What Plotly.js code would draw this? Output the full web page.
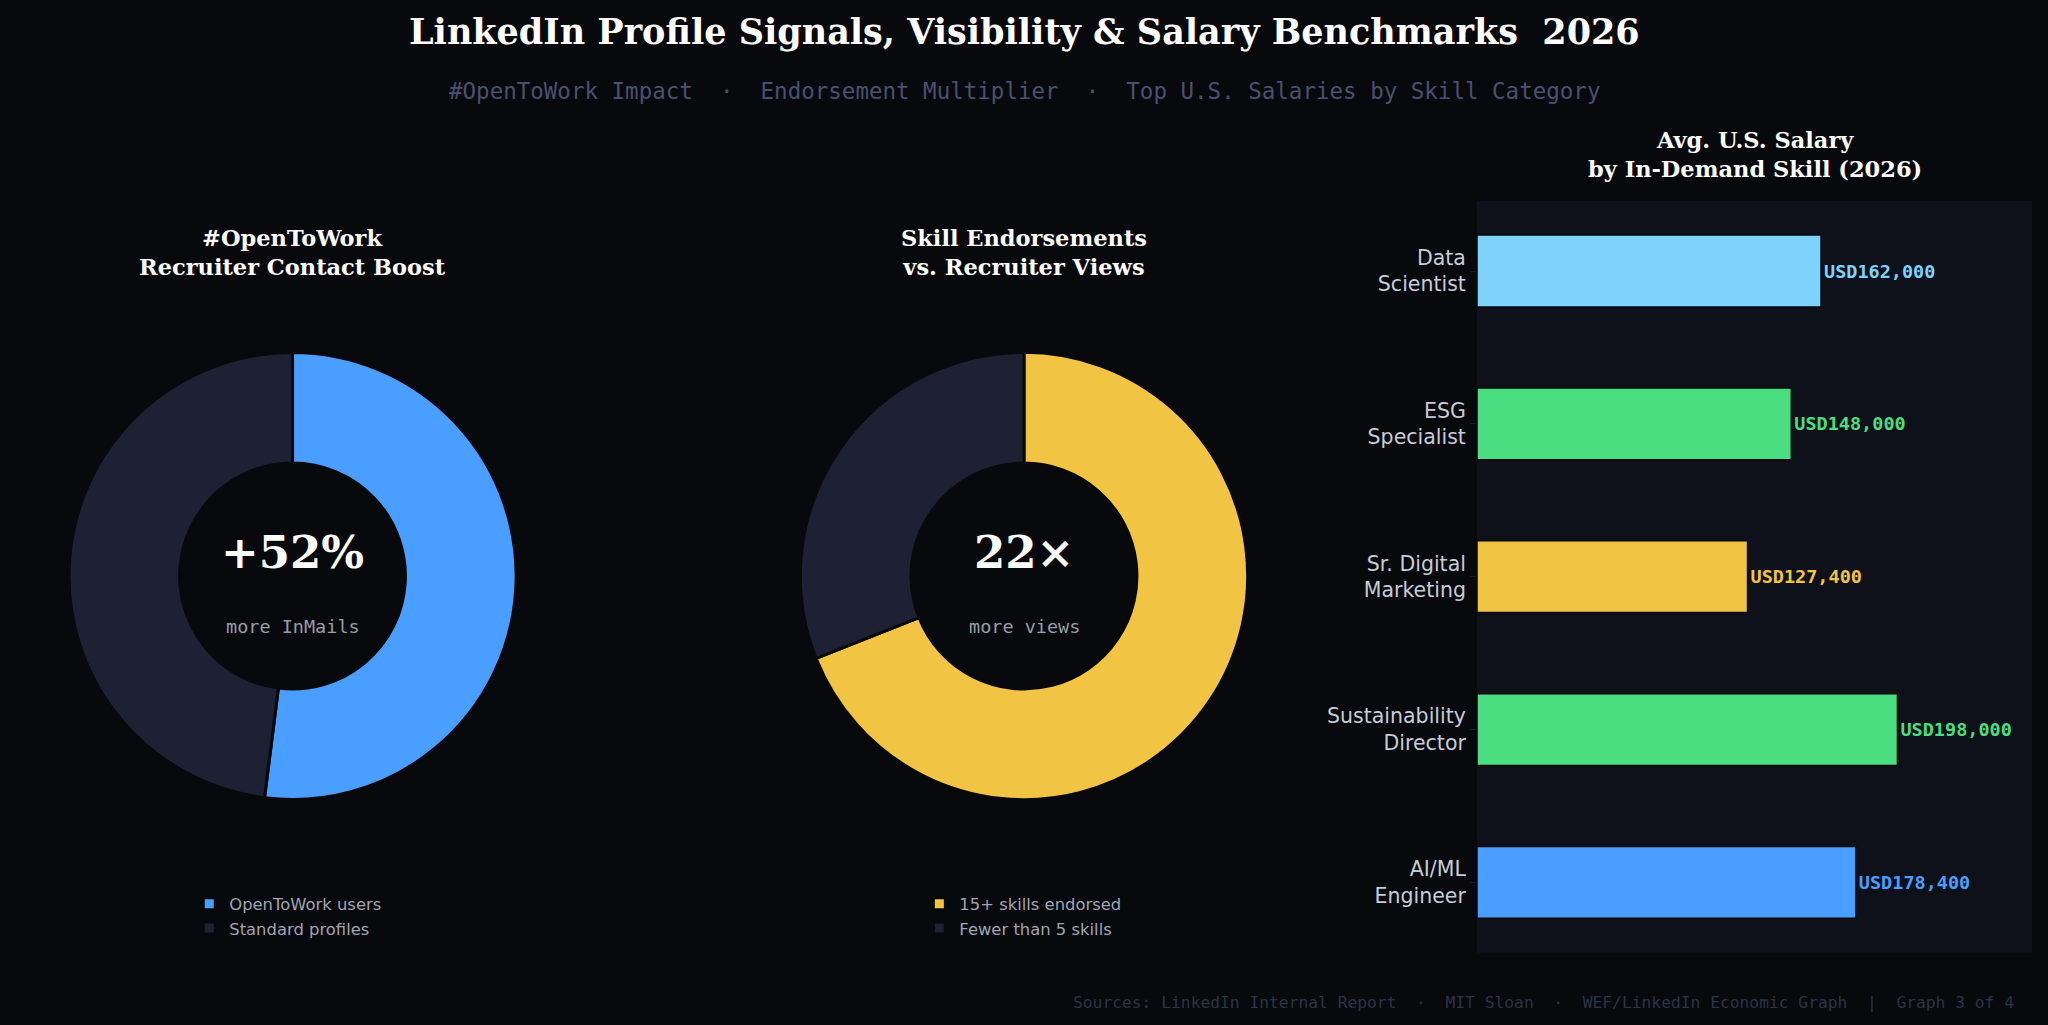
<!DOCTYPE html>
<html>
<head>
<meta charset="utf-8">
<script src="https://cdn.plot.ly/plotly-3.0.1.min.js"></script>
<style>
  html, body { margin: 0; padding: 0; background: #07090d; }
  #chart { width: 2048px; height: 1025px; }
</style>
</head>
<body>
<div id="chart"></div>
<script>
// ---- Data ----
const openToWorkLabels = ["OpenToWork users", "Standard profiles"];
const openToWorkValues = [52, 48];
const endorseLabels = ["15+ skills endorsed", "Fewer than 5 skills"];
const endorseValues = [69, 31];
const skillCategories = ["AI/ML<br>Engineer", "Sustainability<br>Director", "Sr. Digital<br>Marketing", "ESG<br>Specialist", "Data<br>Scientist"];
const skillSalaries = [178400, 198000, 127400, 148000, 162000];
const barColors = ["#4a9eff", "#4ade80", "#f2c443", "#4ade80", "#7dd3fc"];
const centerBig = ["+52%", "22×"];
const centerSmall = ["more InMails", "more views"];

const BG = "#07090d";
const DARK = "#1d2133";

const traces = [
  {
    type: "pie", labels: openToWorkLabels, values: openToWorkValues,
    hole: 0.505, sort: false, direction: "clockwise", rotation: 0,
    marker: { colors: ["#4a9eff", DARK], line: { color: BG, width: 3 } },
    textinfo: "none", hoverinfo: "label+value",
    domain: { x: [0.0337, 0.2520], y: [0.2198, 0.6563] },
    legend: "legend", showlegend: true
  },
  {
    type: "pie", labels: endorseLabels, values: endorseValues,
    hole: 0.505, sort: false, direction: "clockwise", rotation: 0,
    marker: { colors: ["#f2c443", DARK], line: { color: BG, width: 3 } },
    textinfo: "none", hoverinfo: "label+value",
    domain: { x: [0.3908, 0.6092], y: [0.2198, 0.6563] },
    legend: "legend2", showlegend: true
  },
  {
    type: "bar", orientation: "h", x: skillSalaries, y: skillCategories,
    width: 0.47,
    marker: { color: barColors, line: { color: BG, width: 1.5 } },
    text: skillSalaries, texttemplate: "USD%{x:,.0f}", textposition: "outside",
    textfont: { family: "DejaVu Sans Mono", size: 18.5, color: barColors, weight: 700 },
    cliponaxis: false, showlegend: false, xaxis: "x", yaxis: "y"
  }
];

const layout = {
  width: 2048, height: 1025,
  paper_bgcolor: BG, plot_bgcolor: "#0f111a",
  margin: { l: 0, r: 0, t: 0, b: 0 },
  font: { family: "DejaVu Sans", color: "#c8ccd6" },
  xaxis: {
    domain: [1477 / 2048, 2032 / 2048], range: [0, 198000 * 1.32],
    showgrid: false, zeroline: false, showticklabels: false, showline: false, fixedrange: true
  },
  yaxis: {
    domain: [(1025 - 952.7) / 1025, (1025 - 200.7) / 1025], range: [-0.46, 4.46],
    showgrid: false, zeroline: false, showline: false,
    ticks: "outside", ticklen: 6, tickcolor: "#1a1d28",
    tickfont: { family: "DejaVu Sans", size: 20.5, color: "#c8ccd6" }
  },
  legend: {
    x: 0.0924, y: 0.135, xanchor: "left", yanchor: "top", orientation: "v",
    bgcolor: "rgba(0,0,0,0)", font: { family: "DejaVu Sans", size: 16.4, color: "#a0a4b0" },
    traceorder: "normal"
  },
  legend2: {
    x: 0.4489, y: 0.135, xanchor: "left", yanchor: "top", orientation: "v",
    bgcolor: "rgba(0,0,0,0)", font: { family: "DejaVu Sans", size: 16.4, color: "#a0a4b0" },
    traceorder: "normal"
  },
  annotations: [
    { text: "LinkedIn Profile Signals, Visibility & Salary Benchmarks  2026", xref: "paper", yref: "paper",
      x: 0.5, y: 1 - 31 / 1025, xanchor: "center", yanchor: "middle", showarrow: false,
      font: { family: "DejaVu Serif", size: 35, color: "#ffffff", weight: 700 } },
    { text: "#OpenToWork Impact  ·  Endorsement Multiplier  ·  Top U.S. Salaries by Skill Category", xref: "paper", yref: "paper",
      x: 0.5, y: 1 - 91 / 1025, xanchor: "center", yanchor: "middle", showarrow: false,
      font: { family: "DejaVu Sans Mono", size: 22.5, color: "#4a5070" } },
    { text: "#OpenToWork<br>Recruiter Contact Boost", xref: "paper", yref: "paper",
      x: 292.6 / 2048, y: 1 - 252 / 1025, xanchor: "center", yanchor: "middle", showarrow: false,
      font: { family: "DejaVu Serif", size: 22.5, color: "#ffffff", weight: 700 } },
    { text: "Skill Endorsements<br>vs. Recruiter Views", xref: "paper", yref: "paper",
      x: 1024 / 2048, y: 1 - 252 / 1025, xanchor: "center", yanchor: "middle", showarrow: false,
      font: { family: "DejaVu Serif", size: 22.5, color: "#ffffff", weight: 700 } },
    { text: "Avg. U.S. Salary<br>by In-Demand Skill (2026)", xref: "paper", yref: "paper",
      x: 1755 / 2048, y: 1 - 154 / 1025, xanchor: "center", yanchor: "middle", showarrow: false,
      font: { family: "DejaVu Serif", size: 22.5, color: "#ffffff", weight: 700 } },
    { text: centerBig[0], xref: "paper", yref: "paper",
      x: 292.6 / 2048, y: 1 - 552 / 1025, xanchor: "center", yanchor: "middle", showarrow: false,
      font: { family: "DejaVu Serif", size: 45, color: "#ffffff", weight: 700 } },
    { text: centerSmall[0], xref: "paper", yref: "paper",
      x: 292.6 / 2048, y: 1 - 626 / 1025, xanchor: "center", yanchor: "middle", showarrow: false,
      font: { family: "DejaVu Sans Mono", size: 18.5, color: "#9a9ca6" } },
    { text: centerBig[1], xref: "paper", yref: "paper",
      x: 1024 / 2048, y: 1 - 552 / 1025, xanchor: "center", yanchor: "middle", showarrow: false,
      font: { family: "DejaVu Serif", size: 45, color: "#ffffff", weight: 700 } },
    { text: centerSmall[1], xref: "paper", yref: "paper",
      x: 1024 / 2048, y: 1 - 626 / 1025, xanchor: "center", yanchor: "middle", showarrow: false,
      font: { family: "DejaVu Sans Mono", size: 18.5, color: "#9a9ca6" } },
    { text: "Sources: LinkedIn Internal Report  ·  MIT Sloan  ·  WEF/LinkedIn Economic Graph  |  Graph 3 of 4", xref: "paper", yref: "paper",
      x: 2016 / 2048, y: 1 - 1002 / 1025, xanchor: "right", yanchor: "middle", showarrow: false,
      font: { family: "DejaVu Sans Mono", size: 16.3, color: "#2e3346" } }
  ]
};

Plotly.newPlot("chart", traces, layout, { displayModeBar: false, staticPlot: true });
</script>
</body>
</html>
